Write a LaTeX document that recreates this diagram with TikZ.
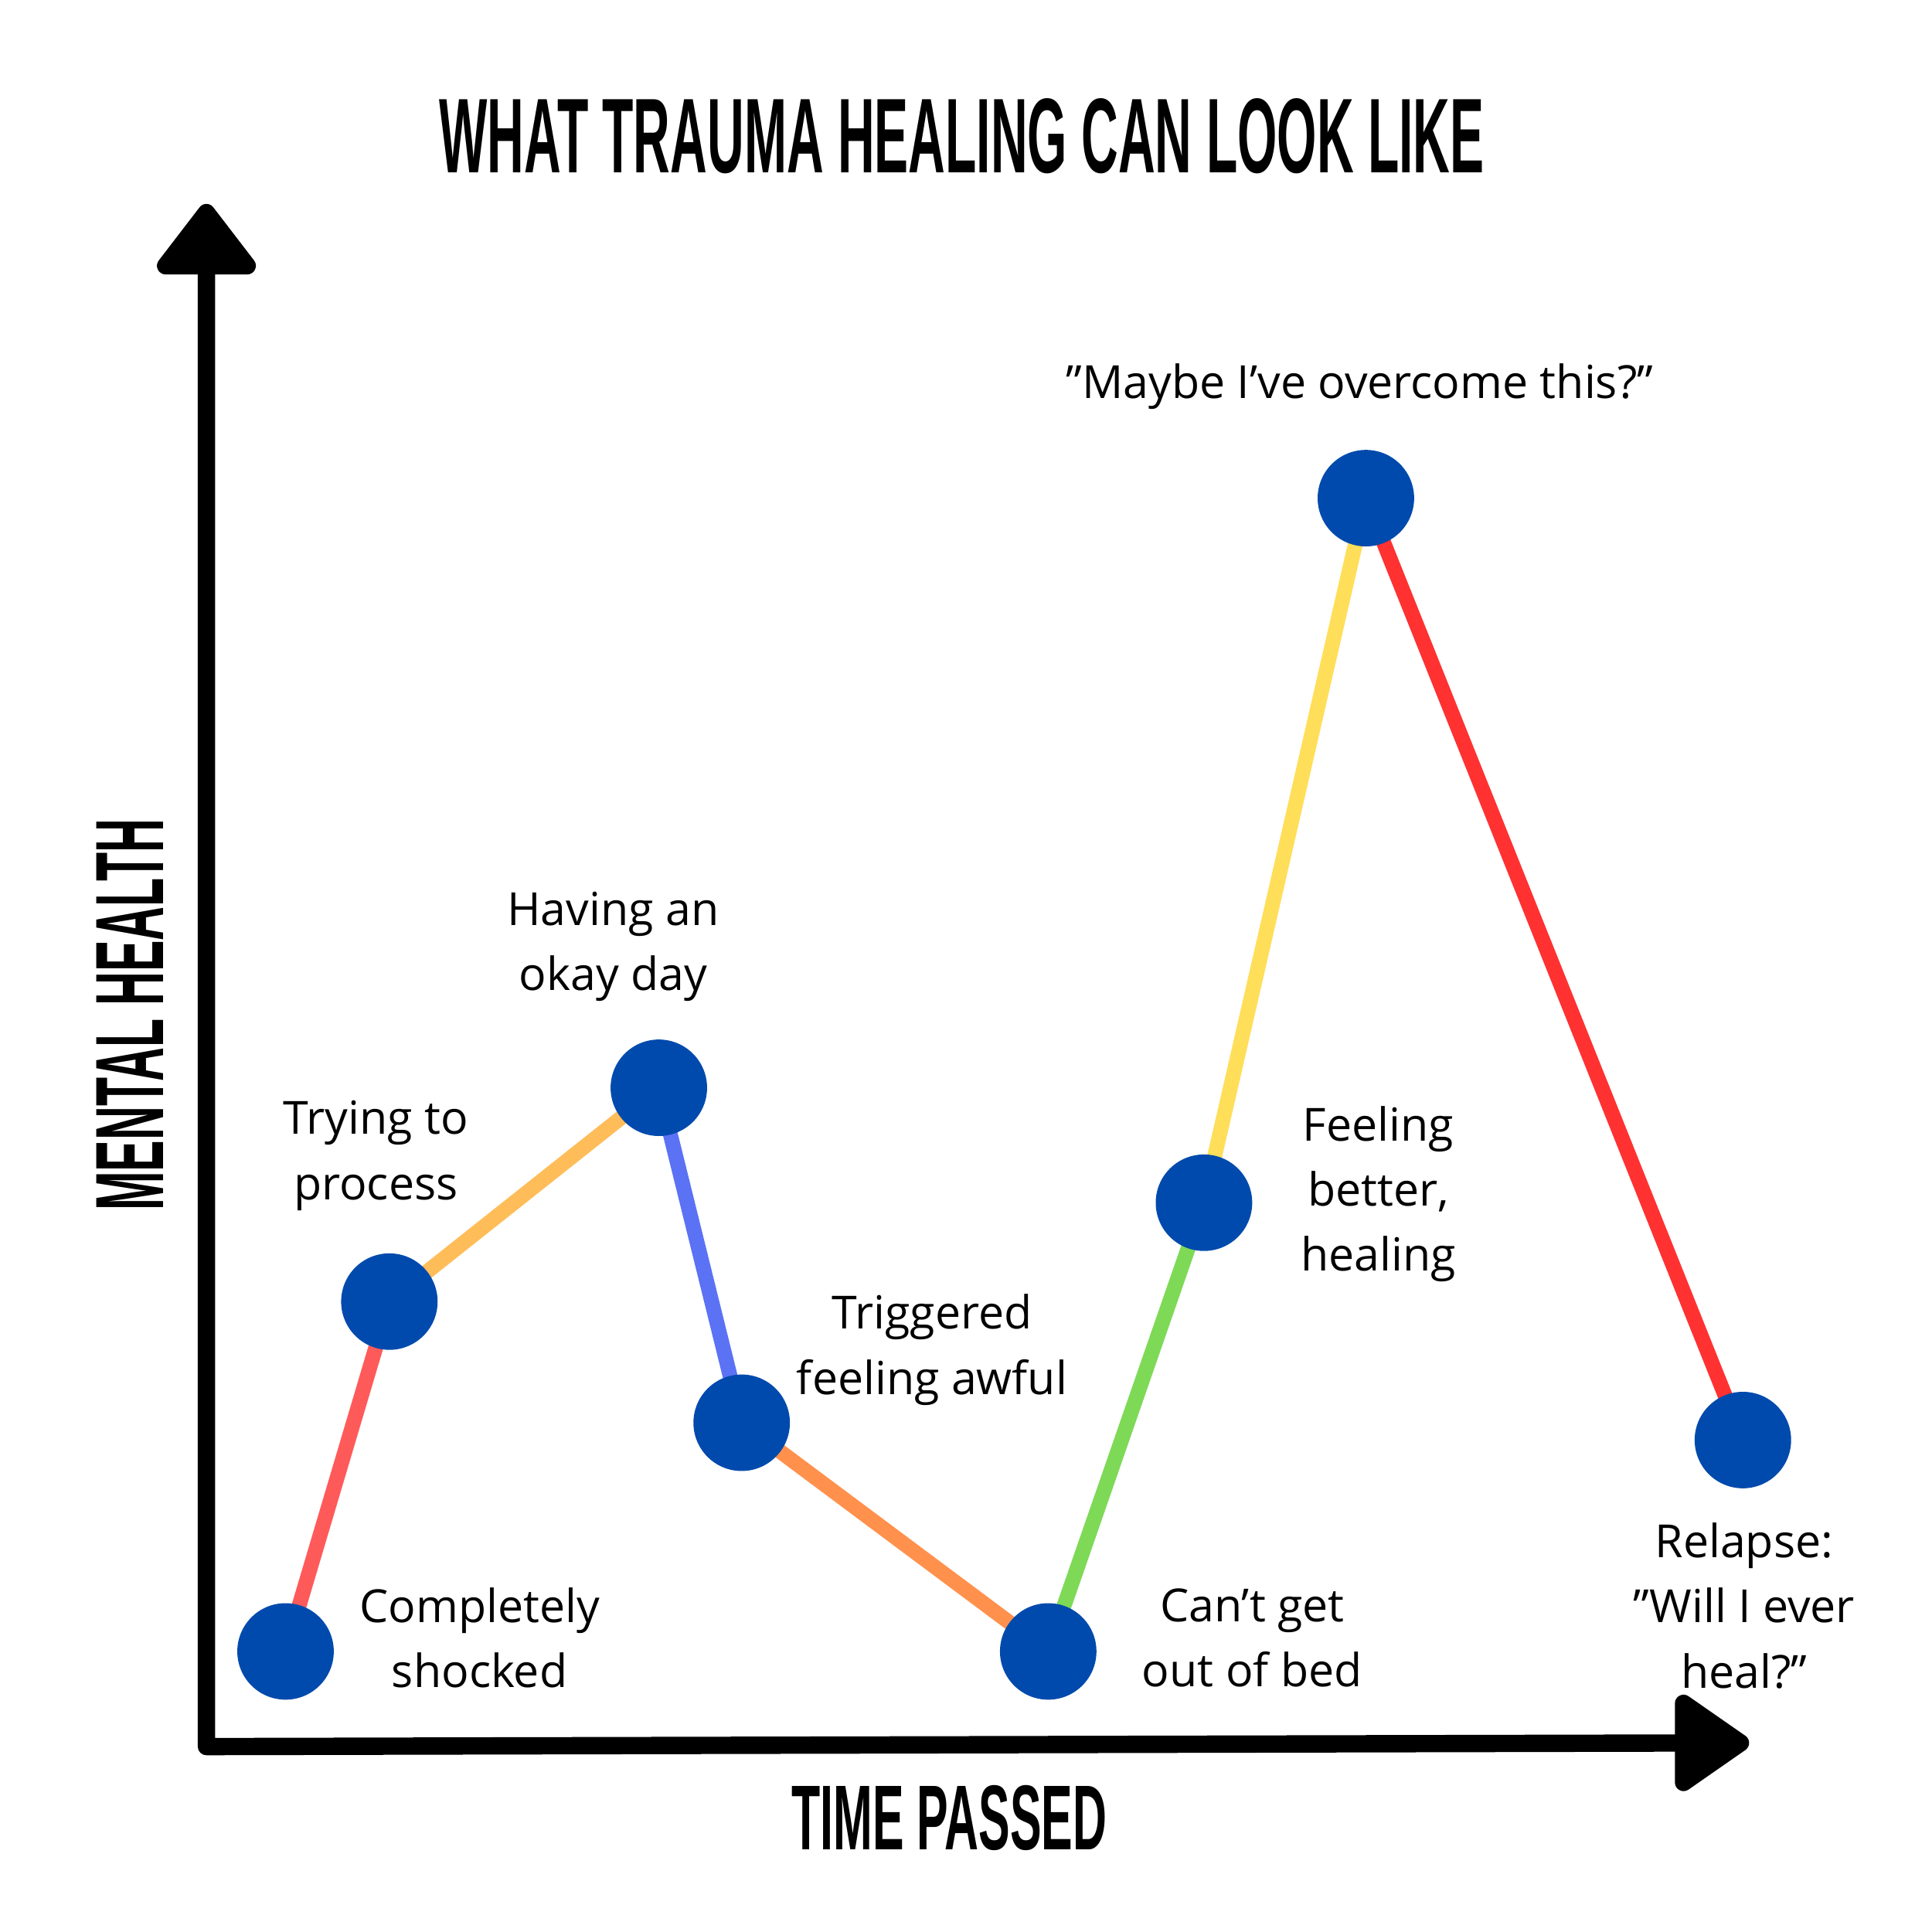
\documentclass[tikz,border=0pt]{standalone}
\usepackage{fontspec}
\setmainfont{Open Sans}
\newfontfamily\headf{Liberation Sans}
\begin{document}
\begin{tikzpicture}[x=0.01cm,y=-0.01cm,
  dot/.style={circle,fill=dotc,minimum size=0.78cm,inner sep=0pt},
  seg/.style={line width=0.12cm},
  lab/.style={font=\fontsize{10.5pt}{15pt}\selectfont,align=center},
  axis/.style={line width=0.14cm,line cap=round,line join=round}]
\definecolor{dotc}{HTML}{004AAD}
\useasboundingbox[fill=white] (0,0) rectangle (1563,1563);
\node at (778,110) {\resizebox{8.45cm}{0.6cm}{\headf\bfseries WHAT TRAUMA HEALING CAN LOOK LIKE}};
\node at (768,1471) {\resizebox{2.55cm}{0.52cm}{\headf\bfseries TIME PASSED}};
\node[rotate=90] at (105,821) {\resizebox{3.17cm}{0.54cm}{\headf\bfseries MENTAL HEALTH}};
% axes
\coordinate (o) at (167,1413);
\coordinate (yt) at (167,180);
\coordinate (xt) at (1400,1410);
\draw[axis] (yt) -- (o) -- (xt);
\draw[axis,fill=black] (167,172) -- (200,215) -- (134,215) -- cycle;
\draw[axis,fill=black] (1408,1410) -- (1362,1378) -- (1362,1442) -- cycle;
\coordinate (A) at (231,1336);
\coordinate (B) at (315,1053);
\coordinate (C) at (533,880);
\coordinate (D) at (600,1151);
\coordinate (E) at (848,1336);
\coordinate (F) at (974,973);
\coordinate (G) at (1105,403);
\coordinate (H) at (1410,1165);
\draw[seg,color={rgb,255:red,255;green,90;blue,90}] (A) -- (B);
\draw[seg,color={rgb,255:red,255;green,189;blue,89}] (B) -- (C);
\draw[seg,color={rgb,255:red,91;green,114;blue,245}] (C) -- (D);
\draw[seg,color={rgb,255:red,255;green,145;blue,77}] (D) -- (E);
\draw[seg,color={rgb,255:red,126;green,217;blue,87}] (E) -- (F);
\draw[seg,color={rgb,255:red,255;green,222;blue,89}] (F) -- (G);
\draw[seg,color={rgb,255:red,255;green,49;blue,49}] (G) -- (H);
\foreach \p in {A,B,C,D,E,F,G,H} \node[dot] (n\p) at (\p) {};
\node[lab] (lA) at (388,1325) {Completely\\shocked};
\node[lab] (lB) at (304,935) {Trying to\\process};
\node[lab] (lC) at (496,766) {Having an\\okay day};
\node[lab] (lD) at (754,1092) {Triggered\\feeling awful};
\node[lab] (lE) at (1013,1325) {Can't get\\out of bed};
\node[lab] (lF) at (1115,966) {Feeling\\better,\\healing};
\node[lab] (lG) at (1100,313) {"Maybe I've overcome this?"};
\node[lab] (lH) at (1411,1299) {Relapse:\\"Will I ever\\heal?"};
\end{tikzpicture}
\end{document}
